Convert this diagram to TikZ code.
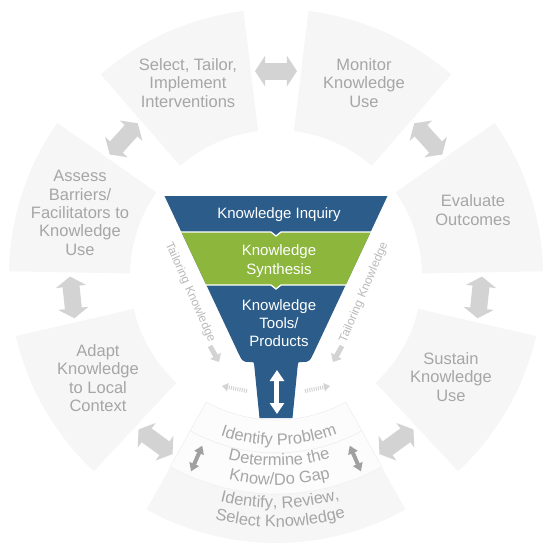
\documentclass[tikz,border=0pt]{standalone}
\usepackage{fontspec}
\setmainfont{Liberation Sans}
\usetikzlibrary{arrows.meta,decorations.text}
\definecolor{kblue}{RGB}{44,93,138}
\definecolor{kgreen}{RGB}{140,182,60}
\definecolor{segfill}{RGB}{246,246,246}
\definecolor{segtext}{RGB}{166,166,166}
\definecolor{arrgray}{RGB}{211,211,211}
\definecolor{darkarr}{RGB}{160,160,160}
\definecolor{tailgray}{RGB}{185,185,185}
\newcommand{\bandfont}{\fontsize{16.5}{18}\selectfont}
\tikzset{
  seg/.style={fill=segfill},
  band/.style={fill=white!65!segfill, draw=black!6, line width=0.6pt},
  seglabel/.style={text=segtext, align=center, inner sep=0pt, font=\fontsize{16.5}{18.3}\selectfont},
  funtext/.style={text=white, align=center, inner sep=0pt, font=\fontsize{15}{18.3}\selectfont},
  bigarr/.style={arrgray, line width=17pt, {Triangle[width=30pt,length=10pt]}-{Triangle[width=30pt,length=10pt]}},
  gaparr/.style={darkarr, line width=4pt, {Triangle[width=10pt,length=8pt]}-{Triangle[width=10pt,length=8pt]}},
  stemarr/.style={white, line width=5pt, {Triangle[width=14pt,length=11pt]}-{Triangle[width=14pt,length=11pt]}},
  tailtext/.style={text=tailgray, inner sep=0pt, font=\fontsize{12}{14}\selectfont},
  tailarr/.style={arrgray, line width=5pt, -{Triangle[width=12pt,length=7pt]}},
  dotarr/.style={arrgray, line width=4pt, dash pattern=on 1pt off 1.2pt, -{Triangle[width=8pt,length=6pt]}},
  sep/.style={white, line width=1.3pt},
  bandtext/.style={decorate, decoration={text along path, text align=center, text color=segtext}}
}
\begin{document}
\begin{tikzpicture}[x=1pt,y=1pt]
\useasboundingbox (-276,-274) rectangle (276,276);
\foreach \a/\b in {97/131,49/83,1/35,-47/-13,193/227,145/179}
  \fill[seg] (\a:146) arc[start angle=\a,end angle=\b,radius=146] -- (\b:267) arc[start angle=\b,end angle=\a,radius=267] -- cycle;
\fill[seg] (241:144) arc[start angle=241,end angle=299,radius=144] -- (299:267) arc[start angle=299,end angle=241,radius=267] -- cycle;
\draw[band] (241:144) arc[start angle=241,end angle=299,radius=144] -- (299:177) arc[start angle=299,end angle=241,radius=177] -- cycle;
\draw[band] (241:177) arc[start angle=241,end angle=299,radius=177] -- (299:218) arc[start angle=299,end angle=241,radius=218] -- cycle;

\node[seglabel] (select) at (-88,193) {Select, Tailor,\\Implement\\Interventions};
\node[seglabel] (monitor) at (88,193) {Monitor\\Knowledge\\Use};
\node[seglabel] (evaluate) at (197,66) {Evaluate\\Outcomes};
\node[seglabel] (sustain) at (175,-101) {Sustain\\Knowledge\\Use};
\node[seglabel] (adapt) at (-178,-102) {Adapt\\Knowledge\\to Local\\Context};
\node[seglabel] (assess) at (-196,63) {Assess\\Barriers/\\Facilitators to\\Knowledge\\Use};

\path[bandtext, decoration={text={|\bandfont|Identify Problem}}] (226:169) arc[start angle=226,end angle=316,radius=169];
\path[bandtext, decoration={text={|\bandfont|Determine the}}] (226:190) arc[start angle=226,end angle=316,radius=190];
\path[bandtext, decoration={text={|\bandfont|Know/Do Gap}}] (226:209) arc[start angle=226,end angle=316,radius=209];
\path[bandtext, decoration={text={|\bandfont|Identify, Review,}}] (226:232) arc[start angle=226,end angle=316,radius=232];
\path[bandtext, decoration={text={|\bandfont|Select Knowledge}}] (226:251) arc[start angle=226,end angle=316,radius=251];

\draw[bigarr] (84.15:206) -- (95.85:206);
\draw[bigarr] (132.15:206) -- (143.85:206);
\draw[bigarr] (36.15:206) -- (47.85:206);
\draw[bigarr] (-11.85:206) -- (-0.15:206);
\draw[bigarr] (180.15:206) -- (191.85:206);
\draw[bigarr] (228.15:206) -- (239.85:206);
\draw[bigarr] (-59.85:206) -- (-48.15:206);
\draw[gaparr] (246.5:185) -- (246.5:213);
\draw[gaparr] (293.5:185) -- (293.5:213);

\fill[kblue] (-111.5,80) -- (111.5,80) -- (39.1,-74) .. controls (33.5,-86) .. (26,-86) .. controls (22,-86) .. (21.6,-91) -- (16.5,-142) -- (-16.5,-142) -- (-21.6,-91) .. controls (-22,-86) .. (-26,-86) .. controls (-33.5,-86) .. (-39.1,-74) -- cycle;
\fill[kgreen] (-94.6,44) -- (-5,44) -- (0,40) -- (5,44) -- (94.6,44) -- (69.7,-9) -- (5,-9) -- (0,-13) -- (-5,-9) -- (-69.7,-9) -- cycle;
\draw[sep] (-95.5,44) -- (-5,44) -- (0,40) -- (5,44) -- (95.5,44);
\draw[sep] (-70.5,-9) -- (-5,-9) -- (0,-13) -- (5,-9) -- (70.5,-9);
\node[funtext] (inquiry) at (3,61) {Knowledge Inquiry};
\node[funtext] (synthesis) at (3,15) {Knowledge\\Synthesis};
\node[funtext] (tools) at (3,-47) {Knowledge\\Tools/\\Products};
\draw[stemarr] (1,-94) -- (1,-138);

\node[tailtext, rotate=-66] (tailleft) at (-86,-16) {Tailoring Knowledge};
\node[tailtext, rotate=67] (tailright) at (88,-16.5) {Tailoring Knowledge};
\draw[tailarr] (-66,-70) -- (-57,-86);
\draw[tailarr] (66,-70) -- (57,-86);
\draw[dotarr] (-29,-115) -- (-54,-110);
\draw[dotarr] (29,-115) -- (54,-110);
\end{tikzpicture}
\end{document}
